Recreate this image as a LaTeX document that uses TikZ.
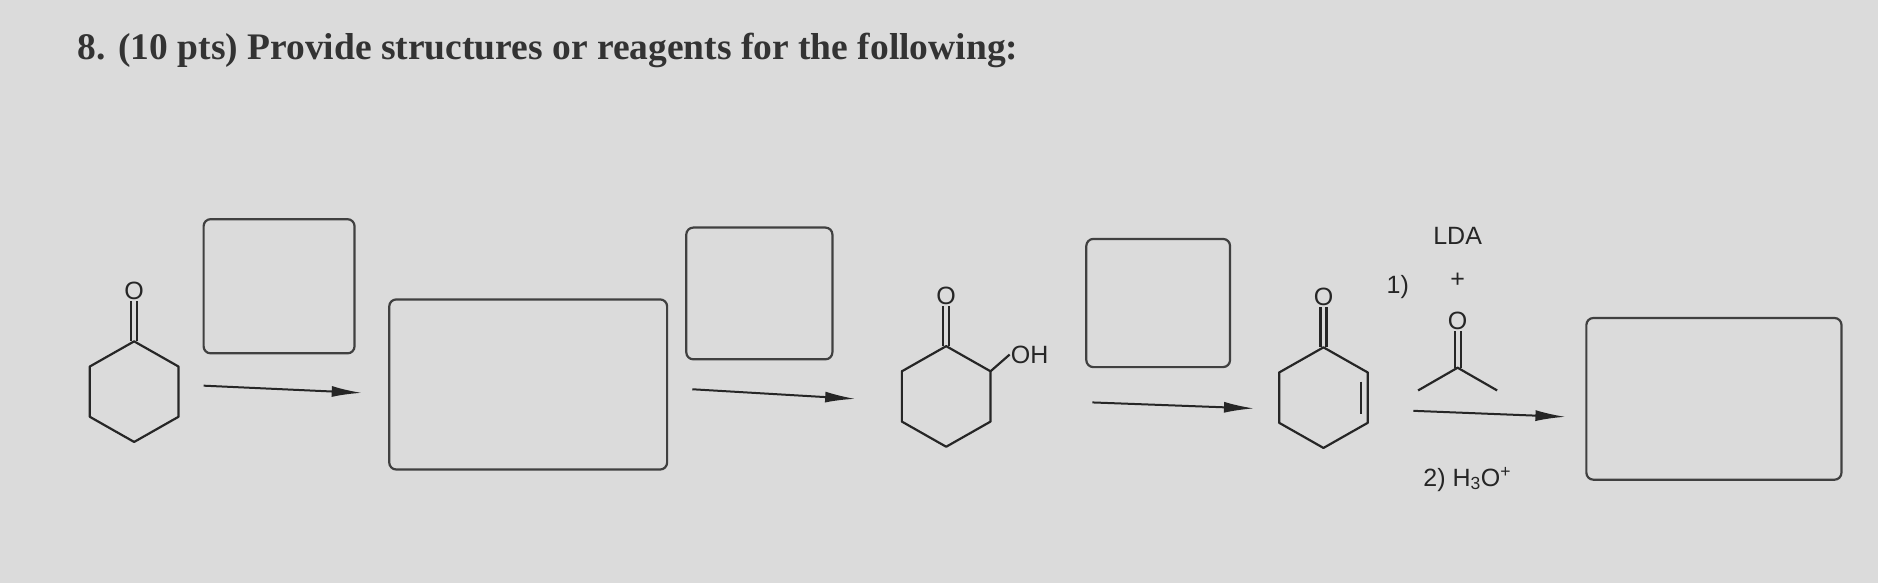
\documentclass[tikz,border=0pt]{standalone}
\usepackage{fontspec}
\setmainfont{Liberation Serif}
\newfontfamily\ar{Liberation Sans}
\usetikzlibrary{arrows.meta,calc}
\begin{document}
\begin{tikzpicture}[x=1.1977pt,y=-1.1977pt,
  bx/.style={draw=black!75,line width=2.2pt,rounded corners=7pt},
  bd/.style={line width=2.2pt,black!85},
  rx/.style={line width=2pt,black!85,-{Latex[length=30pt,width=11pt]}},
  lab/.style={font=\ar\fontsize{25}{25}\selectfont,text=black!85,inner sep=1pt}]
\fill[black!14] (0,0) rectangle (1568,487);
\useasboundingbox (0,0) rectangle (1568,487);
\node[anchor=west,font=\fontsize{37.5}{37.5}\selectfont\bfseries,text=black!80] (title) at (62,42) {8. (10 pts) Provide structures or reagents for the following:};
\foreach \n/\cx/\cy in {a/112/327,b/790/331,c/1105/332}{
  \coordinate (\n1) at (\cx,\cy-42); \coordinate (\n2) at (\cx+37,\cy-21);
  \coordinate (\n3) at (\cx+37,\cy+21); \coordinate (\n4) at (\cx,\cy+42);
  \coordinate (\n5) at (\cx-37,\cy+21); \coordinate (\n6) at (\cx-37,\cy-21);
  \draw[bd,line join=round] (\n1)--(\n2)--(\n3)--(\n4)--(\n5)--(\n6)--cycle;
  \node[lab] (\n O) at (\cx,\cy-84) {O};
  \draw[bd] ([xshift=-3pt]\n1)--([xshift=-3pt]\n O.south);
  \draw[bd] ([xshift=3pt]\n1)--([xshift=3pt]\n O.south);
}
\coordinate (bOHc) at (843,296);
\draw[bd] (b2)--(bOHc);
\node[lab,anchor=west] (OH) at (843,296) {OH};
\draw[bd] ($(c2)!0.18!(c3)+(-6,0)$) -- ($(c2)!0.82!(c3)+(-6,0)$);
\node[bx,minimum width=126pt*1.1977,minimum height=112pt*1.1977] (B1) at (233,239) {};
\node[bx,minimum width=232pt*1.1977,minimum height=142pt*1.1977] (B2) at (441,321) {};
\node[bx,minimum width=122pt*1.1977,minimum height=110pt*1.1977] (B3) at (634,245) {};
\node[bx,minimum width=120pt*1.1977,minimum height=107pt*1.1977] (B4) at (967,253) {};
\node[bx,minimum width=213pt*1.1977,minimum height=135pt*1.1977] (B5) at (1431,333) {};
\coordinate (s1) at (170,322); \coordinate (e1) at (302,328);
\coordinate (s2) at (578,325); \coordinate (e2) at (714,333);
\coordinate (s3) at (912,336); \coordinate (e3) at (1047,341);
\coordinate (s4) at (1180,343); \coordinate (e4) at (1307,348);
\draw[rx] (s1)--(e1); \draw[rx] (s2)--(e2); \draw[rx] (s3)--(e3); \draw[rx] (s4)--(e4);
\node[lab] (one) at (1167,240) {1)};
\node[lab] (lda) at (1217,197) {LDA};
\node[lab] (plus) at (1217,234) {+};
\node[lab] (dO) at (1217,268) {O};
\coordinate (dC) at (1217,307); \coordinate (dM1) at (1184,326); \coordinate (dM2) at (1250,326);
\draw[bd] ([xshift=-3pt]dC)--([xshift=-3pt]dO.south);
\draw[bd] ([xshift=3pt]dC)--([xshift=3pt]dO.south);
\draw[bd,line join=round] (dM1)--(dC)--(dM2);
\node[lab] (two) at (1225,400) {2) H\textsubscript{3}O\textsuperscript{+}};
\end{tikzpicture}
\end{document}
